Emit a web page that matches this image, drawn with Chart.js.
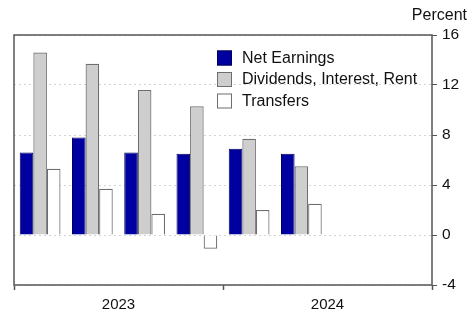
<!DOCTYPE html>
<html>
<head>
<meta charset="utf-8">
<script src="https://cdn.jsdelivr.net/npm/chart.js@4/dist/chart.umd.min.js"></script>
<style>
    html, body { margin: 0; padding: 0; background: #fff; }
    #wrap { width: 474px; height: 322px; }
</style>
</head>
<body>
<div id="wrap"><canvas id="incomeChart" width="474" height="322"></canvas></div>
<script>
// quarters, with the last two of 2024 still empty
const quarters = ['2023 Q1', '2023 Q2', '2023 Q3', '2023 Q4', '2024 Q1', '2024 Q2', '2024 Q3', '2024 Q4'];
const years = ['2023', '2024'];
const netEarnings = [6.6, 7.8, 6.6, 6.5, 6.9, 6.5, null, null];
const dividendsInterestRent = [14.6, 13.7, 11.6, 10.3, 7.7, 5.5, null, null];
const transfers = [5.3, 3.7, 1.7, -1.1, 2.0, 2.5, null, null];
const yTicks = [-4, 0, 4, 8, 12, 16];

const FONT = 'Arial, "Liberation Sans", sans-serif';

// frame, unit label and legend box drawn inside the plot
const decorations = {
    id: 'decorations',
    afterDraw(chart) {
        const { ctx, chartArea: a } = chart;
        ctx.save();
        ctx.strokeStyle = '#555';
        ctx.lineWidth = 1.5;
        ctx.strokeRect(a.left, a.top, a.right - a.left, a.bottom - a.top);

        ctx.fillStyle = '#111';
        ctx.font = '16px ' + FONT;
        ctx.textAlign = 'right';
        ctx.textBaseline = 'middle';
        ctx.fillText('Percent', 467, 16);

        ctx.textAlign = 'left';
        chart.data.datasets.forEach((ds, i) => {
            const y = 57.5 + i * 21.5;
            ctx.fillStyle = ds.backgroundColor;
            ctx.fillRect(217, y - 7, 15, 15);
            ctx.strokeStyle = ds.borderColor;
            ctx.lineWidth = 1;
            ctx.strokeRect(217.5, y - 6.5, 14, 14);
            ctx.fillStyle = '#111';
            ctx.fillText(ds.label, 242, y + 1);
        });
        ctx.restore();
    }
};

new Chart(document.getElementById('incomeChart'), {
    type: 'bar',
    data: {
        labels: quarters,
        datasets: [
            {
                label: 'Net Earnings',
                data: netEarnings,
                backgroundColor: '#0000a0',
                borderColor: '#00005a',
                borderWidth: 1
            },
            {
                label: 'Dividends, Interest, Rent',
                data: dividendsInterestRent,
                backgroundColor: '#cecece',
                borderColor: '#6e6e6e',
                borderWidth: 1.2
            },
            {
                label: 'Transfers',
                data: transfers,
                backgroundColor: '#ffffff',
                borderColor: '#6e6e6e',
                borderWidth: 1.2
            }
        ]
    },
    options: {
        responsive: false,
        animation: false,
        layout: { padding: { left: 14, top: 35, right: 0, bottom: 0 } },
        categoryPercentage: 0.78,
        barPercentage: 1.0,
        plugins: {
            legend: { display: false },
            tooltip: { enabled: false }
        },
        scales: {
            x: {
                display: false,
                offset: true
            },
            years: {
                type: 'category',
                labels: years,
                position: 'bottom',
                offset: true,
                grid: {
                    offset: true,
                    drawOnChartArea: false,
                    tickLength: 5,
                    tickColor: '#555',
                    tickWidth: 1.5
                },
                border: { display: false },
                ticks: {
                    color: '#111',
                    font: { family: FONT, size: 15 },
                    padding: 6,
                    maxRotation: 0
                },
                afterFit(scale) { scale.height = 37; }
            },
            y: {
                position: 'right',
                min: -4,
                max: 16,
                afterBuildTicks(scale) {
                    scale.ticks = yTicks.map(v => ({ value: v }));
                },
                grid: {
                    color: '#d4d4d4',
                    tickColor: '#555',
                    tickLength: 5,
                    tickBorderDash: [],
                    lineWidth: 1
                },
                border: { display: false, dash: [2, 3] },
                ticks: {
                    color: '#111',
                    font: { family: FONT, size: 15.5 },
                    padding: 5
                },
                afterFit(scale) { scale.width = 42; }
            }
        }
    },
    plugins: [decorations]
});
</script>
</body>
</html>
